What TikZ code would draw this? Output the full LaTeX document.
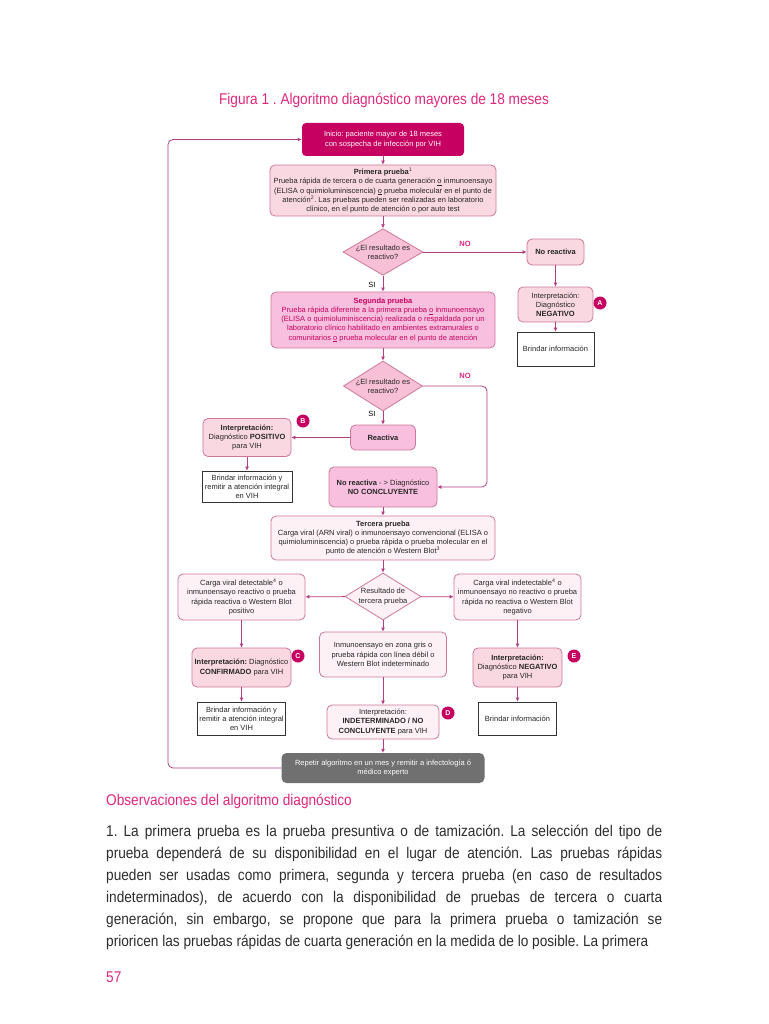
\documentclass[tikz,border=0pt]{standalone}
\usepackage{fontspec}
\setmainfont{Liberation Sans}
\newfontfamily\pagefont{Liberation Sans}[FakeStretch=0.88]
\usetikzlibrary{shapes.geometric,arrows.meta,positioning}
\frenchspacing
\definecolor{mag}{RGB}{222,40,125}
\definecolor{startmag}{RGB}{198,0,96}
\definecolor{linecol}{RGB}{178,62,132}
\definecolor{pinkbd}{RGB}{206,120,152}
\definecolor{pinklt}{RGB}{250,216,226}
\definecolor{pinkhi}{RGB}{248,192,222}
\definecolor{pinkwh}{RGB}{253,241,245}
\definecolor{pinkdia}{RGB}{247,192,214}
\definecolor{repgray}{RGB}{112,112,112}
\definecolor{bodytxt}{RGB}{45,45,45}
\newcommand\bxf{\fontsize{7.5}{9.2}\selectfont}
\tikzset{
  strt/.style={rectangle, rounded corners=4pt, fill=startmag, text=white,
               inner sep=1pt, align=center, font=\bxf},
  pbox/.style={rectangle, rounded corners=5pt, draw=pinkbd, line width=0.8pt,
               fill=pinklt, inner sep=1pt, align=center, font=\bxf, text=black!85},
  hbox/.style={pbox, fill=pinkhi},
  wbox/.style={pbox, fill=pinkwh},
  info/.style={rectangle, draw=black!80, line width=0.7pt, fill=white,
               inner sep=1pt, align=center, font=\bxf, text=black!85},
  dec/.style={diamond, aspect=1.7, draw=pinkbd, line width=0.8pt, fill=pinkdia,
              inner sep=0pt, align=center, font=\bxf, text=black!85},
  rep/.style={rectangle, rounded corners=5pt, fill=repgray, text=white,
              inner sep=1pt, align=center, font=\bxf},
  bdg/.style={circle, fill=startmag, text=white, inner sep=0pt, minimum size=13pt,
              font=\fontsize{7}{7}\selectfont\bfseries},
  lbl/.style={inner sep=0pt, font=\bxf},
  ed/.style={-{Latex[length=4pt,width=4pt]}, line width=0.8pt, draw=linecol},
  pg/.style={inner sep=0pt, font=\pagefont\fontsize{15.5}{22}\selectfont}
}
\begin{document}
\begin{tikzpicture}[x=1pt,y=-1pt]
\useasboundingbox[fill=white] (0,0) rectangle (768,1024);
% page texts
\node[pg, anchor=base, text=mag] (ttl) at (384,105) {Figura 1 . Algoritmo diagnóstico mayores de 18 meses};
\node[pg, anchor=base west, text=mag] (obshd) at (106,805) {Observaciones del algoritmo diagnóstico};
\node[pg, anchor=north west, text width=556pt, align=justify, text=bodytxt] (obs1) at (106,825)
  {\hyphenpenalty=10000 1. La primera prueba es la prueba presuntiva o de tamización. La selección del tipo de\linebreak
   prueba dependerá de su disponibilidad en el lugar de atención. Las pruebas rápidas\linebreak
   pueden ser usadas como primera, segunda y tercera prueba (en caso de resultados\linebreak
   indeterminados), de acuerdo con la disponibilidad de pruebas de tercera o cuarta\linebreak
   generación, sin embargo, se propone que para la primera prueba o tamización se\linebreak
   prioricen las pruebas rápidas de cuarta generación en la medida de lo posible. La primera\parfillskip=0pt};
\node[pg, anchor=base west, text=mag] (pgno) at (106,982) {57};
% main column
\node[strt, minimum width=162pt, minimum height=33pt] (start) at (383,139.5)
  {Inicio: paciente mayor de 18 meses\\con sospecha de infección por VIH};
\node[pbox, minimum width=226pt, minimum height=51pt] (prim) at (383,190.5)
  {\textbf{Primera prueba}\textsuperscript{1}\\
   Prueba rápida de tercera o de cuarta generación \underline{o} inmunoensayo\\
   (ELISA o quimioluminiscencia) \underline{o} prueba molecular en el punto de\\
   atención\textsuperscript{2}. Las pruebas pueden ser realizadas en laboratorio\\
   clínico, en el punto de atención o por auto test};
\node[dec, minimum width=80pt, minimum height=46pt] (d1) at (383,252) {¿El resultado es\\reactivo?};
\node[pbox, minimum width=57pt, minimum height=26pt] (nr1) at (555.5,252) {\textbf{No reactiva}};
\node[pbox, minimum width=75pt, minimum height=35pt] (intA) at (555.5,304.5)
  {Interpretación:\\Diagnóstico\\\textbf{NEGATIVO}};
\node[info, minimum width=77pt, minimum height=34pt] (infA) at (555.5,349) {Brindar información};
\node[bdg] (bA) at (600,303) {A};
\node[hbox, minimum width=224pt, minimum height=56pt, text=startmag] (seg) at (383,320)
  {\textbf{Segunda prueba}\\
   Prueba rápida diferente a la primera prueba \underline{o} inmunoensayo\\
   (ELISA o quimioluminiscencia) realizada o respaldada por un\\
   laboratorio clínico habilitado en ambientes extramurales o\\
   comunitarios \underline{o} prueba molecular en el punto de atención};
\node[dec, minimum width=78pt, minimum height=50pt] (d2) at (383,386) {¿El resultado es\\reactivo?};
\node[hbox, minimum width=65pt, minimum height=25pt] (react) at (383,437.5) {\textbf{Reactiva}};
\node[pbox, minimum width=88pt, minimum height=38pt] (intB) at (247,437.5)
  {\textbf{Interpretación:}\\Diagnóstico \textbf{POSITIVO}\\para VIH};
\node[bdg] (bB) at (303,421) {B};
\node[info, minimum width=90pt, minimum height=31pt] (infB) at (247,486.5)
  {Brindar información y\\remitir a atención integral\\en VIH};
\node[hbox, minimum width=108pt, minimum height=40pt] (nr2) at (383,487)
  {\textbf{No reactiva} - > Diagnóstico\\\textbf{NO CONCLUYENTE}};
\node[wbox, minimum width=224pt, minimum height=44pt] (terc) at (383,538)
  {\textbf{Tercera prueba}\\
   Carga viral (ARN viral) o inmunoensayo convencional (ELISA o\\
   quimioluminiscencia) o prueba rápida o prueba molecular en el\\
   punto de atención o Western Blot\textsuperscript{3}};
\node[dec, aspect=1.6, minimum width=76pt, minimum height=47pt, fill=pinkwh] (d3) at (383,596.5)
  {Resultado de\\tercera prueba};
\node[wbox, minimum width=127pt, minimum height=46pt] (lft) at (241.5,597)
  {Carga viral detectable\textsuperscript{4} o\\inmunoensayo reactivo o prueba\\rápida reactiva o Western Blot\\positivo};
\node[wbox, minimum width=127pt, minimum height=46pt] (rgt) at (517.5,597)
  {Carga viral indetectable\textsuperscript{4} o\\inmunoensayo no reactivo o prueba\\rápida no reactiva o Western Blot\\negativo};
\node[wbox, minimum width=127pt, minimum height=45pt] (mid) at (383,654.5)
  {Inmunoensayo en zona gris o\\prueba rápida con línea débil o\\Western Blot indeterminado};
\node[pbox, minimum width=99pt, minimum height=39pt] (intC) at (241.5,667.5)
  {\textbf{Interpretación:} Diagnóstico\\\textbf{CONFIRMADO} para VIH};
\node[bdg] (bC) at (298,656) {C};
\node[pbox, minimum width=89pt, minimum height=39pt] (intE) at (517.5,667.5)
  {\textbf{Interpretación:}\\Diagnóstico \textbf{NEGATIVO}\\para VIH};
\node[bdg] (bE) at (574,656) {E};
\node[info, minimum width=88pt, minimum height=33pt] (infC) at (241.5,718.5)
  {Brindar información y\\remitir a atención integral\\en VIH};
\node[info, minimum width=78pt, minimum height=33pt] (infE) at (517.5,718.5) {Brindar información};
\node[wbox, minimum width=112pt, minimum height=34pt] (intD) at (383,722)
  {Interpretación:\\\textbf{INDETERMINADO / NO}\\\textbf{CONCLUYENTE} para VIH};
\node[bdg] (bD) at (448,713) {D};
\node[rep, minimum width=203pt, minimum height=30pt] (repe) at (383,768)
  {Repetir algoritmo en un mes y remitir a infectología ó\\médico experto};
% labels
\node[lbl, text=mag] (no1) at (465,244) {\textbf{NO}};
\node[lbl] (si1) at (372,285) {SI};
\node[lbl, text=mag] (no2) at (465,376) {\textbf{NO}};
\node[lbl] (si2) at (372,414) {SI};
\coordinate (xr) at (487,386);
\coordinate (lb) at (168,768);
\coordinate (lt) at (168,139.5);
% connectors
\draw[ed] (start) -- (prim);
\draw[ed] (prim) -- (d1);
\draw[ed] (d1) -- (nr1); \draw[ed] (nr1) -- (intA); \draw[ed] (intA) -- (infA);
\draw[ed] (d1) -- (seg);
\draw[ed] (seg) -- (d2);
\draw[ed] (d2) -- (react); \draw[ed] (react) -- (intB); \draw[ed] (intB) -- (infB);
\draw[ed, rounded corners=5pt] (d2.east) -- (xr) |- (nr2.east);
\draw[ed] (nr2) -- (terc);
\draw[ed] (terc) -- (d3);
\draw[ed] (d3) -- (lft); \draw[ed] (d3) -- (rgt); \draw[ed] (d3) -- (mid);
\draw[ed] (lft) -- (intC); \draw[ed] (intC) -- (infC);
\draw[ed] (rgt) -- (intE); \draw[ed] (intE) -- (infE);
\draw[ed] (mid) -- (intD); \draw[ed] (intD) -- (repe);
\draw[ed, rounded corners=5pt] (repe.west) -- (lb) -- (lt) -- (start.west);
\end{tikzpicture}
\end{document}
